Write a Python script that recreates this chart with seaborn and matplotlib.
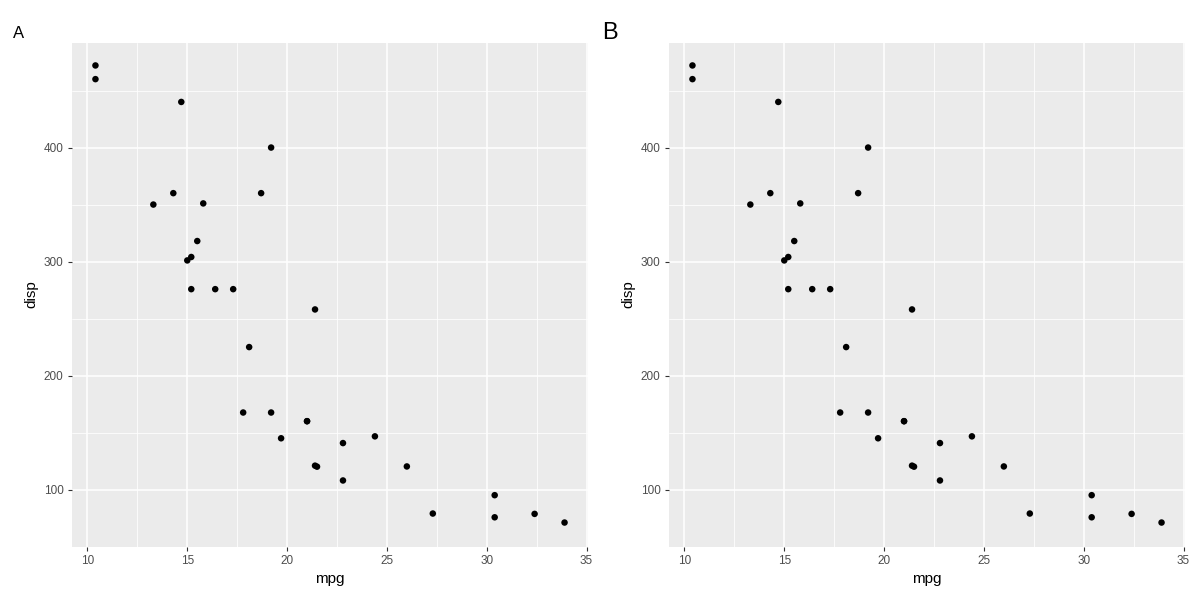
import numpy as np
import pandas as pd
import matplotlib
matplotlib.use("Agg")
import matplotlib.pyplot as plt
import seaborn as sns

# mtcars: miles per gallon and displacement
mpg = [21.0, 21.0, 22.8, 21.4, 18.7, 18.1, 14.3, 24.4, 22.8, 19.2, 17.8,
       16.4, 17.3, 15.2, 10.4, 10.4, 14.7, 32.4, 30.4, 33.9, 21.5, 15.5,
       15.2, 13.3, 19.2, 27.3, 26.0, 30.4, 15.8, 19.7, 15.0, 21.4]
disp = [160, 160, 108, 258, 360, 225, 360, 146.7, 140.8, 167.6, 167.6,
        275.8, 275.8, 275.8, 472, 460, 440, 78.7, 75.7, 71.1, 120.1, 318,
        304, 350, 400, 79, 120.3, 95.1, 351, 145, 301, 121]
panel_labels = ["A", "B"]
label_sizes = [12, 17]
x_ticks = [10, 15, 20, 25, 30, 35]
y_ticks = [100, 200, 300, 400]

df = pd.DataFrame({"mpg": mpg, "disp": disp})

sns.set_theme(style="darkgrid")
plt.rcParams["font.family"] = ["Arial", "Liberation Sans", "DejaVu Sans"]

fig = plt.figure(figsize=(12, 6), dpi=100)
positions = [[0.060, 0.089, 0.430, 0.840], [0.5575, 0.089, 0.430, 0.840]]
label_x = [0.011, 0.502]

xr = max(mpg) - min(mpg)
yr = max(disp) - min(disp)

for pos, lab, lsize, lx in zip(positions, panel_labels, label_sizes, label_x):
    ax = fig.add_axes(pos)
    ax.set_facecolor("#EBEBEB")
    sns.scatterplot(data=df, x="mpg", y="disp", ax=ax, color="black",
                    s=22, edgecolor="none", linewidth=0)
    ax.set_xlim(min(mpg) - 0.05 * xr, max(mpg) + 0.05 * xr)
    ax.set_ylim(min(disp) - 0.05 * yr, max(disp) + 0.05 * yr)
    ax.set_xticks(x_ticks)
    ax.set_yticks(y_ticks)
    ax.set_xticks([12.5, 17.5, 22.5, 27.5, 32.5], minor=True)
    ax.set_yticks([50, 150, 250, 350, 450], minor=True)
    ax.grid(which="major", color="white", linewidth=1.1)
    ax.grid(which="minor", color="white", linewidth=0.55)
    for s in ax.spines.values():
        s.set_visible(False)
    ax.tick_params(axis="both", which="major", length=3, width=0.8,
                   color="#333333", labelsize=8.5, labelcolor="#4D4D4D",
                   pad=3, bottom=True, left=True)
    ax.tick_params(axis="both", which="minor", length=0)
    ax.set_xlabel("mpg", fontsize=11, color="black", labelpad=4)
    ax.set_ylabel("disp", fontsize=11, color="black", labelpad=4)
    fig.text(lx, 0.945, lab, fontsize=lsize, color="black", ha="left", va="center")

fig.savefig("out.png", dpi=100, facecolor="white")
